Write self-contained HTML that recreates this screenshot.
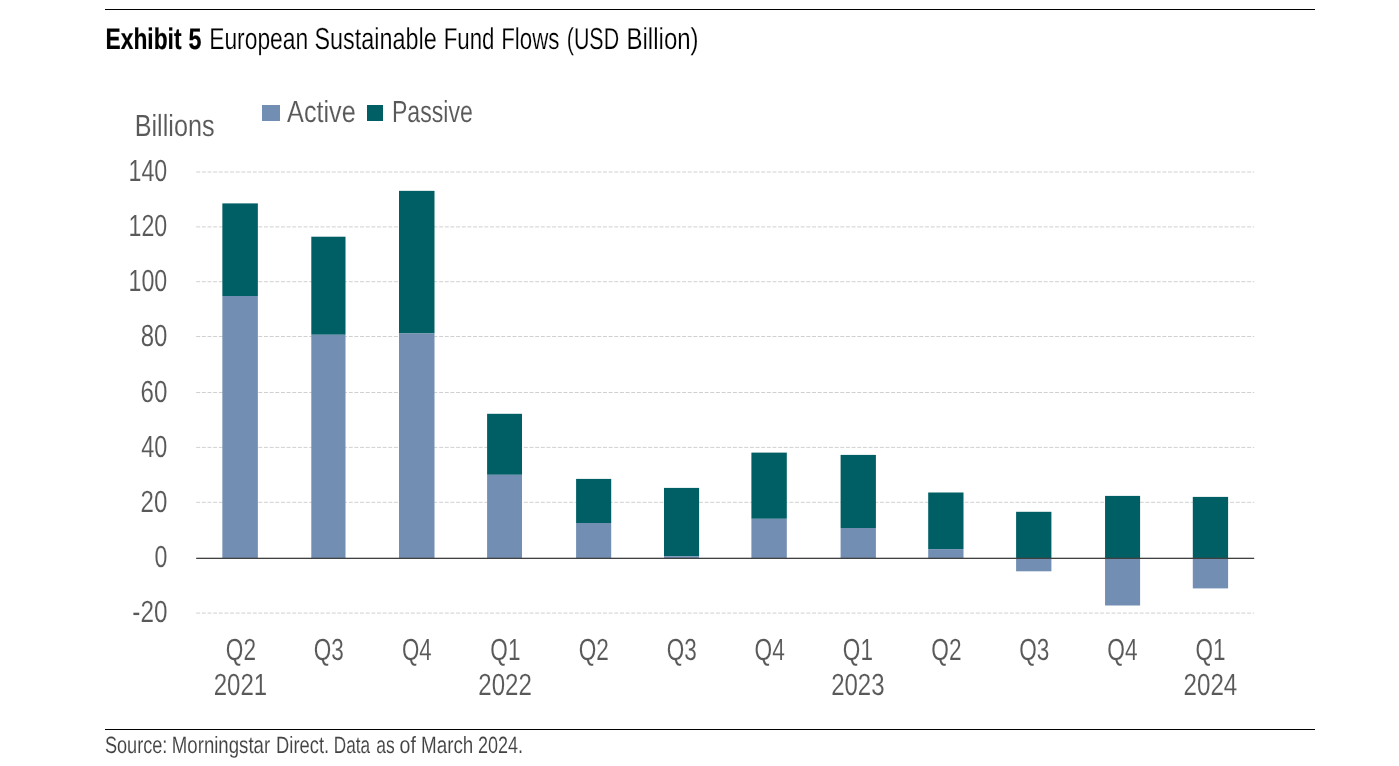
<!DOCTYPE html>
<html lang="en"><head><meta charset="utf-8"><title>Exhibit 5 European Sustainable Fund Flows (USD Billion)</title>
<style>html,body{margin:0;padding:0;background:#fff;overflow:hidden}svg{display:block;font-family:"Liberation Sans",sans-serif;text-rendering:geometricPrecision}</style></head><body>
<svg width="1399" height="766" viewBox="0 0 1399 766" role="img" aria-label="Stacked bar chart of European sustainable fund flows, active and passive, Q2 2021 to Q1 2024">
<rect width="1399" height="766" fill="#fff"/>
<rect x="105" y="9" width="1210" height="1" fill="#000"/>
<rect x="105" y="729" width="1210" height="1" fill="#000"/>
<line x1="196.2" y1="172.0" x2="1254.2" y2="172.0" stroke="#d0d0d0" stroke-width="1" stroke-dasharray="3.95 1.7"/>
<line x1="196.2" y1="226.9" x2="1254.2" y2="226.9" stroke="#d0d0d0" stroke-width="1" stroke-dasharray="3.95 1.7"/>
<line x1="196.2" y1="281.7" x2="1254.2" y2="281.7" stroke="#d0d0d0" stroke-width="1" stroke-dasharray="3.95 1.7"/>
<line x1="196.2" y1="336.5" x2="1254.2" y2="336.5" stroke="#d0d0d0" stroke-width="1" stroke-dasharray="3.95 1.7"/>
<line x1="196.2" y1="392.5" x2="1254.2" y2="392.5" stroke="#d0d0d0" stroke-width="1" stroke-dasharray="3.95 1.7"/>
<line x1="196.2" y1="447.4" x2="1254.2" y2="447.4" stroke="#d0d0d0" stroke-width="1" stroke-dasharray="3.95 1.7"/>
<line x1="196.2" y1="502.3" x2="1254.2" y2="502.3" stroke="#d0d0d0" stroke-width="1" stroke-dasharray="3.95 1.7"/>
<line x1="196.2" y1="613.1" x2="1254.2" y2="613.1" stroke="#d0d0d0" stroke-width="1" stroke-dasharray="3.95 1.7"/>
<rect x="222.35" y="203.40" width="35.50" height="92.60" fill="#005F64"/>
<rect x="222.35" y="296.00" width="35.50" height="262.30" fill="#728EB3"/>
<rect x="311.30" y="236.70" width="34.20" height="98.05" fill="#005F64"/>
<rect x="311.30" y="334.75" width="34.20" height="223.55" fill="#728EB3"/>
<rect x="399.00" y="190.85" width="35.50" height="142.65" fill="#005F64"/>
<rect x="399.00" y="333.50" width="35.50" height="224.80" fill="#728EB3"/>
<rect x="487.10" y="413.80" width="34.90" height="61.00" fill="#005F64"/>
<rect x="487.10" y="474.80" width="34.90" height="83.50" fill="#728EB3"/>
<rect x="576.10" y="478.90" width="35.10" height="44.10" fill="#005F64"/>
<rect x="576.10" y="523.00" width="35.10" height="35.30" fill="#728EB3"/>
<rect x="664.00" y="487.90" width="35.10" height="68.30" fill="#005F64"/>
<rect x="664.00" y="556.20" width="35.10" height="2.10" fill="#728EB3"/>
<rect x="751.40" y="452.60" width="35.40" height="66.20" fill="#005F64"/>
<rect x="751.40" y="518.80" width="35.40" height="39.50" fill="#728EB3"/>
<rect x="840.60" y="454.90" width="35.30" height="73.10" fill="#005F64"/>
<rect x="840.60" y="528.00" width="35.30" height="30.30" fill="#728EB3"/>
<rect x="928.20" y="492.50" width="35.30" height="56.60" fill="#005F64"/>
<rect x="928.20" y="549.10" width="35.30" height="9.20" fill="#728EB3"/>
<rect x="1016.10" y="511.80" width="35.30" height="46.50" fill="#005F64"/>
<rect x="1016.10" y="558.30" width="35.30" height="13.00" fill="#728EB3"/>
<rect x="1105.05" y="495.90" width="35.05" height="62.40" fill="#005F64"/>
<rect x="1105.05" y="558.30" width="35.05" height="47.20" fill="#728EB3"/>
<rect x="1192.80" y="496.90" width="35.30" height="61.40" fill="#005F64"/>
<rect x="1192.80" y="558.30" width="35.30" height="30.10" fill="#728EB3"/>
<rect x="196.2" y="557.7" width="1058.0" height="1.3" fill="#404040"/>
<rect x="262" y="105" width="18" height="16" fill="#728EB3"/>
<rect x="367" y="105" width="16" height="16" fill="#005F64"/>
<text transform="translate(134.68 136.00) scale(0.8262 1)" font-size="30.5" fill="#595959" stroke="#fff" stroke-width="0.1" vector-effect="non-scaling-stroke">Billions</text>
<text transform="translate(287.11 121.70) scale(0.8252 1)" font-size="30.5" fill="#595959" stroke="#fff" stroke-width="0.1" vector-effect="non-scaling-stroke">Active</text>
<text transform="translate(391.95 121.70) scale(0.7573 1)" font-size="30.5" fill="#595959" stroke="#fff" stroke-width="0.1" vector-effect="non-scaling-stroke">Passive</text>
<text transform="translate(128.46 180.94) scale(0.7621 1)" font-size="30.5" fill="#595959" stroke="#fff" stroke-width="0.1" vector-effect="non-scaling-stroke">140</text>
<text transform="translate(128.46 236.12) scale(0.7621 1)" font-size="30.5" fill="#595959" stroke="#fff" stroke-width="0.1" vector-effect="non-scaling-stroke">120</text>
<text transform="translate(128.46 291.30) scale(0.7621 1)" font-size="30.5" fill="#595959" stroke="#fff" stroke-width="0.1" vector-effect="non-scaling-stroke">100</text>
<text transform="translate(140.65 346.48) scale(0.7857 1)" font-size="30.5" fill="#595959" stroke="#fff" stroke-width="0.1" vector-effect="non-scaling-stroke">80</text>
<text transform="translate(140.48 401.66) scale(0.7908 1)" font-size="30.5" fill="#595959" stroke="#fff" stroke-width="0.1" vector-effect="non-scaling-stroke">60</text>
<text transform="translate(141.21 456.84) scale(0.7686 1)" font-size="30.5" fill="#595959" stroke="#fff" stroke-width="0.1" vector-effect="non-scaling-stroke">40</text>
<text transform="translate(140.54 512.02) scale(0.7891 1)" font-size="30.5" fill="#595959" stroke="#fff" stroke-width="0.1" vector-effect="non-scaling-stroke">20</text>
<text transform="translate(154.41 567.20) scale(0.7595 1)" font-size="30.5" fill="#595959" stroke="#fff" stroke-width="0.1" vector-effect="non-scaling-stroke">0</text>
<text transform="translate(132.35 622.38) scale(0.7959 1)" font-size="30.5" fill="#595959" stroke="#fff" stroke-width="0.1" vector-effect="non-scaling-stroke">-20</text>
<text transform="translate(225.81 660.00) scale(0.7413 1)" font-size="30.5" fill="#595959" stroke="#fff" stroke-width="0.1" vector-effect="non-scaling-stroke">Q2</text>
<text transform="translate(313.71 660.00) scale(0.7387 1)" font-size="30.5" fill="#595959" stroke="#fff" stroke-width="0.1" vector-effect="non-scaling-stroke">Q3</text>
<text transform="translate(401.98 660.00) scale(0.7307 1)" font-size="30.5" fill="#595959" stroke="#fff" stroke-width="0.1" vector-effect="non-scaling-stroke">Q4</text>
<text transform="translate(490.36 660.00) scale(0.7391 1)" font-size="30.5" fill="#595959" stroke="#fff" stroke-width="0.1" vector-effect="non-scaling-stroke">Q1</text>
<text transform="translate(578.76 660.00) scale(0.7400 1)" font-size="30.5" fill="#595959" stroke="#fff" stroke-width="0.1" vector-effect="non-scaling-stroke">Q2</text>
<text transform="translate(666.67 660.00) scale(0.7373 1)" font-size="30.5" fill="#595959" stroke="#fff" stroke-width="0.1" vector-effect="non-scaling-stroke">Q3</text>
<text transform="translate(754.56 660.00) scale(0.7437 1)" font-size="30.5" fill="#595959" stroke="#fff" stroke-width="0.1" vector-effect="non-scaling-stroke">Q4</text>
<text transform="translate(842.86 660.00) scale(0.7391 1)" font-size="30.5" fill="#595959" stroke="#fff" stroke-width="0.1" vector-effect="non-scaling-stroke">Q1</text>
<text transform="translate(931.26 660.00) scale(0.7427 1)" font-size="30.5" fill="#595959" stroke="#fff" stroke-width="0.1" vector-effect="non-scaling-stroke">Q2</text>
<text transform="translate(1019.16 660.00) scale(0.7400 1)" font-size="30.5" fill="#595959" stroke="#fff" stroke-width="0.1" vector-effect="non-scaling-stroke">Q3</text>
<text transform="translate(1107.26 660.00) scale(0.7437 1)" font-size="30.5" fill="#595959" stroke="#fff" stroke-width="0.1" vector-effect="non-scaling-stroke">Q4</text>
<text transform="translate(1195.56 660.00) scale(0.7391 1)" font-size="30.5" fill="#595959" stroke="#fff" stroke-width="0.1" vector-effect="non-scaling-stroke">Q1</text>
<text transform="translate(213.64 695.15) scale(0.7886 1)" font-size="30.5" fill="#595959" stroke="#fff" stroke-width="0.1" vector-effect="non-scaling-stroke">2021</text>
<text transform="translate(478.24 695.15) scale(0.7892 1)" font-size="30.5" fill="#595959" stroke="#fff" stroke-width="0.1" vector-effect="non-scaling-stroke">2022</text>
<text transform="translate(831.14 695.15) scale(0.7875 1)" font-size="30.5" fill="#595959" stroke="#fff" stroke-width="0.1" vector-effect="non-scaling-stroke">2023</text>
<text transform="translate(1183.53 695.15) scale(0.7921 1)" font-size="30.5" fill="#595959" stroke="#fff" stroke-width="0.1" vector-effect="non-scaling-stroke">2024</text>
<text y="49.10" font-size="29.8" fill="#000" font-weight="bold" stroke="#000" stroke-width="0.2"><tspan x="105.57" textLength="75.93" lengthAdjust="spacingAndGlyphs">Exhibit</tspan> <tspan x="188.52" textLength="12.99" lengthAdjust="spacingAndGlyphs">5</tspan></text>
<text y="49.10" font-size="30.3" fill="#000" stroke="#fff" stroke-width="0.2"><tspan x="209.22" textLength="98.91" lengthAdjust="spacingAndGlyphs">European</tspan> <tspan x="314.46" textLength="122.22" lengthAdjust="spacingAndGlyphs">Sustainable</tspan> <tspan x="443.67" textLength="50.78" lengthAdjust="spacingAndGlyphs">Fund</tspan> <tspan x="501.16" textLength="58.28" lengthAdjust="spacingAndGlyphs">Flows</tspan> <tspan x="566.75" textLength="52.37" lengthAdjust="spacingAndGlyphs">(USD</tspan> <tspan x="626.52" textLength="72.08" lengthAdjust="spacingAndGlyphs">Billion)</tspan></text>
<text y="753.30" font-size="23.6" fill="#424242" stroke="#fff" stroke-width="0.1"><tspan x="104.93" textLength="62.47" lengthAdjust="spacingAndGlyphs">Source:</tspan> <tspan x="171.82" textLength="98.31" lengthAdjust="spacingAndGlyphs">Morningstar</tspan> <tspan x="276.04" textLength="53.09" lengthAdjust="spacingAndGlyphs">Direct.</tspan> <tspan x="333.74" textLength="36.30" lengthAdjust="spacingAndGlyphs">Data</tspan> <tspan x="376.37" textLength="18.46" lengthAdjust="spacingAndGlyphs">as</tspan> <tspan x="399.61" textLength="16.33" lengthAdjust="spacingAndGlyphs">of</tspan> <tspan x="421.00" textLength="52.32" lengthAdjust="spacingAndGlyphs">March</tspan> <tspan x="477.93" textLength="45.07" lengthAdjust="spacingAndGlyphs">2024.</tspan></text>
</svg></body></html>
